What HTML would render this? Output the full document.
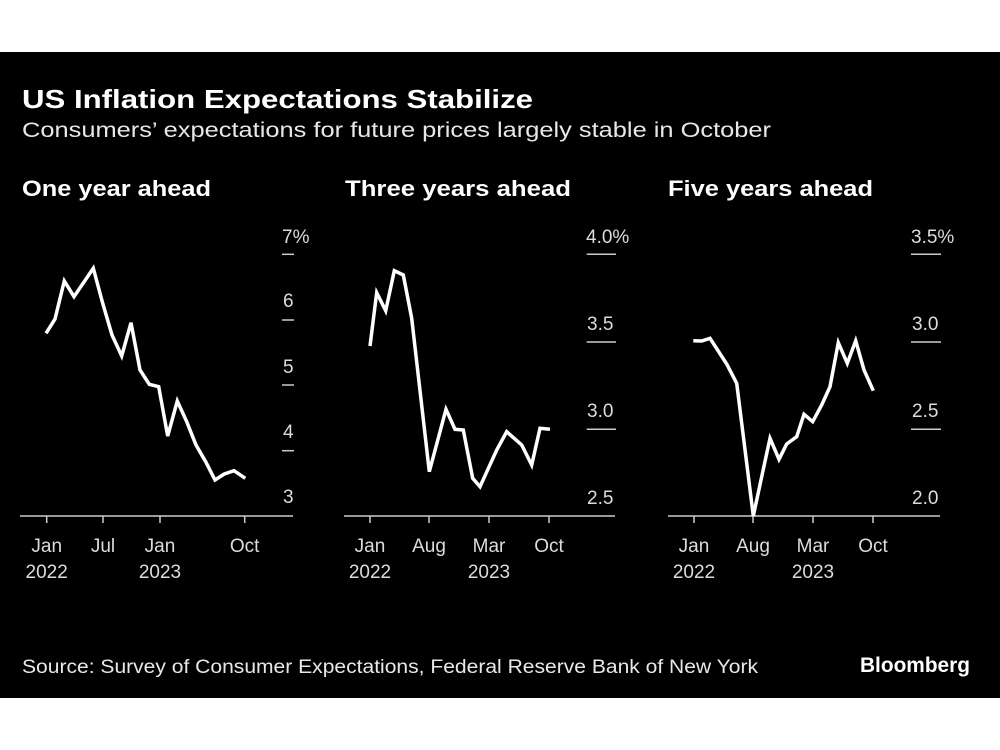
<!DOCTYPE html>
<html><head><meta charset="utf-8"><style>
html,body{margin:0;padding:0;background:#fff;}
svg{display:block;}
text{font-family:"Liberation Sans",sans-serif;fill:#e8e8e8;}
.b{font-weight:bold;fill:#fff;}
.t{font-size:19px;fill:#dcdcdc;}
</style></head><body>
<svg width="1000" height="750" xmlns="http://www.w3.org/2000/svg">
<rect x="0" y="52" width="1000" height="646" fill="#000"/>
<text class="b" x="22" y="108" font-size="26" textLength="511" lengthAdjust="spacingAndGlyphs">US Inflation Expectations Stabilize</text>
<text x="22" y="137" font-size="21" textLength="749" lengthAdjust="spacingAndGlyphs">Consumers’ expectations for future prices largely stable in October</text>
<text class="b" x="22" y="196" font-size="22" textLength="189" lengthAdjust="spacingAndGlyphs">One year ahead</text>
<text class="b" x="345" y="196" font-size="22" textLength="226" lengthAdjust="spacingAndGlyphs">Three years ahead</text>
<text class="b" x="668" y="196" font-size="22" textLength="205" lengthAdjust="spacingAndGlyphs">Five years ahead</text>

<g stroke="#ccc" stroke-width="1.5">
<line x1="20" y1="516" x2="293" y2="516"/>
<line x1="46.7" y1="516" x2="46.7" y2="523"/><line x1="103" y1="516" x2="103" y2="523"/><line x1="160" y1="516" x2="160" y2="523"/><line x1="244.7" y1="516" x2="244.7" y2="523"/>
<line x1="282" y1="254.3" x2="294" y2="254.3"/><line x1="282" y1="320" x2="294" y2="320"/><line x1="282" y1="385" x2="294" y2="385"/><line x1="282" y1="450.7" x2="294" y2="450.7"/>
<line x1="344" y1="516" x2="615" y2="516"/>
<line x1="370" y1="516" x2="370" y2="523"/><line x1="429" y1="516" x2="429" y2="523"/><line x1="489" y1="516" x2="489" y2="523"/><line x1="549" y1="516" x2="549" y2="523"/>
<line x1="586.7" y1="254.3" x2="616" y2="254.3"/><line x1="586.7" y1="342" x2="616" y2="342"/><line x1="586.7" y1="429.3" x2="616" y2="429.3"/>
<line x1="668" y1="516" x2="940" y2="516"/>
<line x1="694" y1="516" x2="694" y2="523"/><line x1="753" y1="516" x2="753" y2="523"/><line x1="813" y1="516" x2="813" y2="523"/><line x1="873" y1="516" x2="873" y2="523"/>
<line x1="911" y1="254.3" x2="941" y2="254.3"/><line x1="911" y1="342" x2="941" y2="342"/><line x1="911" y1="429.3" x2="941" y2="429.3"/>
</g>

<g class="t">
<text x="282" y="243" class="t">7%</text>
<text x="283" y="307" class="t">6</text>
<text x="283" y="373" class="t">5</text>
<text x="283" y="438" class="t">4</text>
<text x="283" y="503" class="t">3</text>
<text x="586" y="243" class="t">4.0%</text>
<text x="587" y="330" class="t">3.5</text>
<text x="587" y="417" class="t">3.0</text>
<text x="587" y="504" class="t">2.5</text>
<text x="911" y="243" class="t">3.5%</text>
<text x="912" y="330" class="t">3.0</text>
<text x="912" y="417" class="t">2.5</text>
<text x="912" y="504" class="t">2.0</text>
</g>
<g class="t" text-anchor="middle">
<text x="46.7" y="552" class="t">Jan</text><text x="46.7" y="578" class="t">2022</text>
<text x="103" y="552" class="t">Jul</text>
<text x="160" y="552" class="t">Jan</text><text x="160" y="578" class="t">2023</text>
<text x="244.7" y="552" class="t">Oct</text>
<text x="370" y="552" class="t">Jan</text><text x="370" y="578" class="t">2022</text>
<text x="429" y="552" class="t">Aug</text>
<text x="489" y="552" class="t">Mar</text><text x="489" y="578" class="t">2023</text>
<text x="549" y="552" class="t">Oct</text>
<text x="694" y="552" class="t">Jan</text><text x="694" y="578" class="t">2022</text>
<text x="753" y="552" class="t">Aug</text>
<text x="813" y="552" class="t">Mar</text><text x="813" y="578" class="t">2023</text>
<text x="873" y="552" class="t">Oct</text>
</g>

<g fill="none" stroke="#fff" stroke-width="3.5" stroke-linejoin="miter" stroke-linecap="butt">
<polyline points="46,333.3 55,319 64.3,281 74,296.7 93.3,268.3 102.7,303.3 112,335 121.7,356 131,322.7 140,370 149.3,384.3 158.7,386.7 167.7,436 177.3,401 186.7,421.7 196,445 205.7,461.7 215,480 224.3,474 234,470.7 245.3,478.3"/>
<polyline points="370,346 376.7,292.7 385.7,310.7 394.3,270.7 403.3,275 411.7,318.3 429.3,471.7 446,409.3 455,429.3 463.3,430 472.7,478.3 480,486.7 496.7,450 506.7,431.7 521.7,445 531.7,465 540,428.3 550,429.3"/>
<polyline points="693.3,340.7 701.7,341 710,338.3 726.7,364 736.7,383.3 753.3,516 761.7,476.7 770,438.3 779,459.3 786.7,444 796.7,436.7 804,414.3 812.7,421.7 821.7,405 830,386.7 838.3,342.7 847.3,363.3 855.7,340.7 864,370 873.3,390.7"/>
</g>

<text x="22" y="673" font-size="19" fill="#ddd" textLength="736" lengthAdjust="spacingAndGlyphs">Source: Survey of Consumer Expectations, Federal Reserve Bank of New York</text>
<text class="b" x="860" y="672" font-size="21" textLength="110" lengthAdjust="spacingAndGlyphs">Bloomberg</text>
</svg>
</body></html>
